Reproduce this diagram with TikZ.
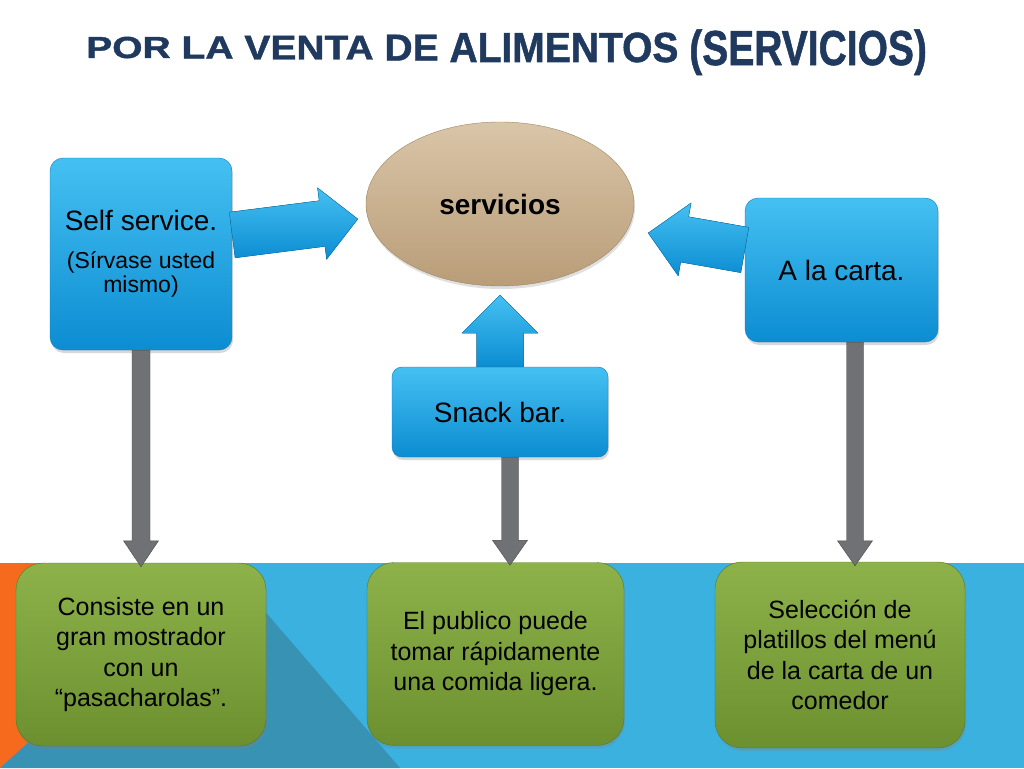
\documentclass[tikz,border=0pt]{standalone}
\usepackage{fontspec}
\setmainfont{Liberation Sans}
\newfontfamily\titlefont{Liberation Sans Bold}[FakeBold=1.2]
\usepackage{graphicx}
\definecolor{boxbluetop}{HTML}{45C0F2}
\definecolor{boxbluebot}{HTML}{0C8DD2}
\definecolor{boxblueline}{HTML}{0B7BBA}
\definecolor{ovaltop}{HTML}{D9C5A8}
\definecolor{ovalbot}{HTML}{B99D78}
\definecolor{ovalline}{HTML}{A08562}
\definecolor{greentop}{HTML}{8DB24A}
\definecolor{greenbot}{HTML}{6C902F}
\definecolor{greenline}{HTML}{5A7825}
\definecolor{arrowgray}{HTML}{707174}
\definecolor{arrowgrayline}{HTML}{4A4A4C}
\definecolor{bandblue}{HTML}{3AB1DF}
\definecolor{banddark}{HTML}{3892B3}
\definecolor{bandorange}{HTML}{F66A1E}
\definecolor{titlenavy}{HTML}{1F3A5E}
\usetikzlibrary{shapes.geometric, positioning, calc, shadows}

% flecha de bloque: [estilo]{inicio}{punta}{medio ancho}{medio ancho punta}{largo punta}
\newcommand{\blockarrow}[6][]{%
  \path (#2) coordinate (ba-s) (#3) coordinate (ba-t)
        ($(ba-t)!#6!(ba-s)$) coordinate (ba-h);
  \filldraw[#1] ($(ba-s)!#4!90:(ba-t)$) -- ($(ba-h)!#4!-90:(ba-s)$)
     -- ($(ba-h)!#5!-90:(ba-s)$) -- (ba-t) -- ($(ba-h)!#5!90:(ba-s)$)
     -- ($(ba-h)!#4!90:(ba-s)$) -- ($(ba-s)!#4!-90:(ba-t)$) -- cycle;
}
\newcommand{\tword}[3]{\raisebox{-#2pt}{\scalebox{1}[#1]{#3}}}

\begin{document}
\begin{tikzpicture}[x=1pt, y=-1pt,
    bluebox/.style={rectangle, rounded corners=13pt, top color=boxbluetop, bottom color=boxbluebot,
                    draw=boxblueline, thin, align=center, font=\fontsize{28}{32}\selectfont,
                    drop shadow={opacity=0.3, shadow xshift=1pt, shadow yshift=-3pt}},
    greenbox/.style={rectangle, rounded corners=27pt, top color=greentop, bottom color=greenbot,
                     draw=greenline, thin, align=center, font=\fontsize{25}{30.5}\selectfont,
                     drop shadow={opacity=0.3, shadow xshift=1pt, shadow yshift=-3pt}},
    oval/.style={ellipse, top color=ovaltop, bottom color=ovalbot, draw=ovalline, thin,
                 font=\fontsize{28}{32}\selectfont\bfseries,
                 drop shadow={opacity=0.25, shadow xshift=1pt, shadow yshift=-3pt}},
    bluearrow/.style={top color=boxbluetop, bottom color=boxbluebot, draw=boxblueline, thin},
    grayarrow/.style={fill=arrowgray, draw=arrowgrayline, thin},
    titletext/.style={font=\fontsize{39}{41}\titlefont, text=titlenavy, inner sep=0pt}
]
\useasboundingbox (0,0) rectangle (1024,768);

% fondo
\fill[white] (0,0) rectangle (1024,768);
\fill[bandblue] (0,563) rectangle (1024,768);
\fill[bandorange] (0,563) rectangle (40,768);
\fill[banddark] (0,768) -- (225,565) -- (400,768) -- cycle;

% titulo
\node[titletext, anchor=base west] (title) at (86,58)
  {\tword{0.78}{0}{POR} \tword{0.82}{0.5}{LA} \tword{0.88}{1.5}{VENTA} \tword{0.96}{2.5}{DE}
   \tword{1.08}{4}{ALIMENTOS} \tword{1.26}{7}{(SERVICIOS)}};

\node[oval, minimum width=268pt, minimum height=164pt] (serv) at (500,204) {servicios};

\node[bluebox, minimum width=182pt, minimum height=192pt] (self) at (141,254)
  {Self service.\\[6pt]{\fontsize{23}{20}\selectfont (Sírvase usted}\\[-8pt]{\fontsize{23}{20}\selectfont mismo)}};
\node[bluebox, minimum width=193pt, minimum height=144pt] (carta) at (841.5,270) {A la carta.};
\node[bluebox, rounded corners=10pt, minimum width=216pt, minimum height=90pt] (snack) at (500,412) {Snack bar.};

\node[greenbox, minimum width=250pt, minimum height=183pt] (gself) at (141,654.5)
  {Consiste en un\\gran mostrador\\con un\\“pasacharolas”.};
\node[greenbox, minimum width=257pt, minimum height=183pt] (gsnack) at (495.5,654)
  {El publico puede\\tomar rápidamente\\una comida ligera.};
\node[greenbox, minimum width=250pt, minimum height=186pt] (gcarta) at (840,655)
  {Selección de\\platillos del menú\\de la carta de un\\comedor};

% flechas azules hacia servicios
\blockarrow[bluearrow]{[yshift=19pt]self.east}{[xshift=-8pt,yshift=-15pt]serv.west}{23pt}{36pt}{36pt}
\blockarrow[bluearrow]{[yshift=20pt]carta.west}{[xshift=14pt,yshift=-29pt]serv.east}{23pt}{37pt}{37pt}
\blockarrow[bluearrow]{snack.north}{[yshift=-9pt]serv.south}{23.5pt}{38pt}{38pt}

% flechas grises hacia abajo
\blockarrow[grayarrow]{self.south}{[yshift=-4pt]gself.north}{9pt}{17.5pt}{26pt}
\blockarrow[grayarrow]{[xshift=10pt]snack.south}{[xshift=14.5pt,yshift=-3pt]gsnack.north}{8.5pt}{17.5pt}{25pt}
\blockarrow[grayarrow]{[xshift=13.5pt]carta.south}{[xshift=15pt,yshift=-4pt]gcarta.north}{8.5pt}{17.5pt}{25pt}

\end{tikzpicture}
\end{document}
